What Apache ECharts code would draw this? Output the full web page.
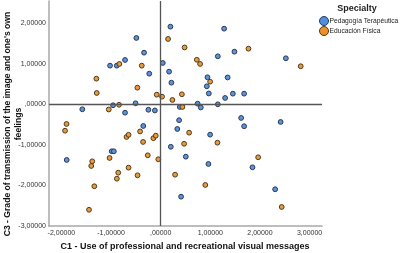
<!DOCTYPE html>
<html><head><meta charset="utf-8">
<script src="https://cdn.jsdelivr.net/npm/echarts@6/dist/echarts.min.js"></script>
<style>html,body{margin:0;padding:0;background:#fff}#c{width:400px;height:253px}</style>
</head><body><div id="c"></div>
<script>
const seriesNames = ['Pedagogía Terapéutica', 'Educación Física'];
const xTicks = [-2, -1, 0, 1, 2, 3];
const yTicks = [-3, -2, -1, 0, 1, 2];
const xTitle = 'C1 - Use of professional and recreational visual messages';
const yTitle = "C3 - Grade of transmission of the image and one's own\nfeelings";
const legendTitle = 'Specialty';
const pedagogia = [
 [-1.579,-0.121],[-1.020,0.955],[-0.885,0.955],[-0.718,1.095],[-0.960,-0.022],[-0.718,-0.205],
 [-0.506,0.027],[-0.490,1.638],[-0.335,1.275],[-0.230,0.757],[-0.248,-0.133],[-0.117,-0.150],
 [0.042,1.021],[0.196,1.917],[0.169,0.807],[0.216,0.535],[0.385,-0.064],[0.744,0.017],
 [0.808,-0.076],[1.278,1.867],[1.486,1.300],[1.151,1.186],[2.522,1.137],[0.942,0.668],
 [1.349,0.664],[0.929,0.446],[0.970,0.269],[1.454,0.264],[1.681,0.264],[1.298,0.158],
 [1.151,0.002],[1.621,-0.335],[1.681,-0.540],[2.417,-0.434],[-1.893,-1.371],[-0.986,-1.157],
 [-0.944,-1.157],[-0.351,-0.533],[0.371,-0.390],[0.335,-0.607],[0.204,-1.046],[0.506,-1.290],
 [0.411,-2.277],[0.996,-0.747],[0.962,-1.470],[1.849,-1.552],[2.306,-2.094]
];
const educacion = [
 [-1.296,0.634],[-1.288,0.281],[-1.046,-0.126],[-0.833,0.997],[-0.839,-0.010],[-0.381,0.955],
 [-0.470,0.412],[-0.079,0.239],[0.028,0.190],[0.149,1.613],[0.236,0.109],[0.438,-0.064],
 [0.482,1.404],[0.728,1.100],[0.794,0.997],[0.996,0.560],[0.427,0.249],[1.768,1.374],
 [2.821,0.940],[-1.897,-0.483],[-1.927,-0.649],[-1.379,-1.404],[-1.399,-1.519],[-1.337,-2.020],
 [-1.444,-2.600],[-1.030,-1.322],[-0.855,-1.685],[-0.883,-1.833],[-0.647,-1.561],[-0.466,-1.749],
 [-0.260,-1.256],[-0.048,-1.354],[-0.688,-0.804],[-0.647,-0.750],[-0.415,-0.668],[-0.355,-0.927],
 [-0.147,-0.834],[-0.099,-0.772],[0.290,-1.734],[0.573,-0.698],[0.472,-0.972],[1.143,-0.945],
 [0.899,-1.988],[1.964,-1.305],[2.438,-2.531]
];

const FONT = '"Liberation Sans", Arial, sans-serif';
function fmt(v){
  let s = Math.abs(v).toFixed(5).replace('.', ',');
  if (Math.abs(v) < 1) s = s.replace(/^0/, '');
  return (v < 0 ? '-' : '') + s;
}
const chart = echarts.init(document.getElementById('c'), null, {renderer:'canvas'});
chart.setOption({
  animation: false,
  backgroundColor: '#fff',
  textStyle: {fontFamily: FONT},
  grid: {left: 49, top: 1, width: 273, height: 225},
  xAxis: {
    type: 'value', min: -2.25, max: 3.25,
    axisLine: {show: true, onZero: false, lineStyle: {color: '#a8a8a8', width: 1.5}},
    axisTick: {show: false},
    splitLine: {show: false},
    axisLabel: {customValues: xTicks, formatter: fmt, fontSize: 7, color: '#333', margin: 4, fontFamily: FONT}
  },
  yAxis: {
    type: 'value', min: -3, max: 2.55,
    axisLine: {show: true, onZero: false, lineStyle: {color: '#a8a8a8', width: 1.5}},
    axisTick: {show: false},
    splitLine: {show: false},
    axisLabel: {customValues: yTicks, formatter: fmt, fontSize: 7, color: '#333', margin: 3, fontFamily: FONT}
  },
  legend: {
    orient: 'vertical', left: 319, top: 16, itemWidth: 9, itemHeight: 9, itemGap: 0,
    icon: 'circle', padding: 0,
    textStyle: {fontSize: 6.7, color: '#222', padding: [0,0,0,-4], fontFamily: FONT},
    data: [
      {name: seriesNames[0], itemStyle: {color: '#4f8fe0', borderColor: '#2b3b55', borderWidth: 1}},
      {name: seriesNames[1], itemStyle: {color: '#ef8f25', borderColor: '#4d3a1c', borderWidth: 1}}
    ]
  },
  graphic: [
    {type: 'text', x: 357, y: 9, style: {text: legendTitle, font: 'bold 9px ' + FONT, fill: '#222', textAlign: 'center', textVerticalAlign: 'middle'}},
    {type: 'text', x: 185, y: 247, style: {text: xTitle, font: 'bold 9px ' + FONT, fill: '#111', textAlign: 'center', textVerticalAlign: 'middle'}},
    {type: 'text', x: 13, y: 124, rotation: Math.PI/2, style: {text: yTitle, font: 'bold 8.6px ' + FONT, fill: '#111', textAlign: 'center', textVerticalAlign: 'middle', lineHeight: 11}}
  ],
  series: [
    {name: seriesNames[0], type: 'scatter', data: pedagogia, symbolSize: 4.8, z: 3,
     itemStyle: {color: '#5b93dc', borderColor: '#2a3850', borderWidth: 1, opacity: 1},
     markLine: {silent: true, symbol: 'none', label: {show: false},
       lineStyle: {color: '#555', width: 1.3, type: 'solid'},
       data: [{xAxis: 0}, {yAxis: 0}]}},
    {name: seriesNames[1], type: 'scatter', data: educacion, symbolSize: 4.8, z: 3,
     itemStyle: {color: '#e99a3c', borderColor: '#4d3a1c', borderWidth: 1, opacity: 1}}
  ]
});
</script></body></html>
